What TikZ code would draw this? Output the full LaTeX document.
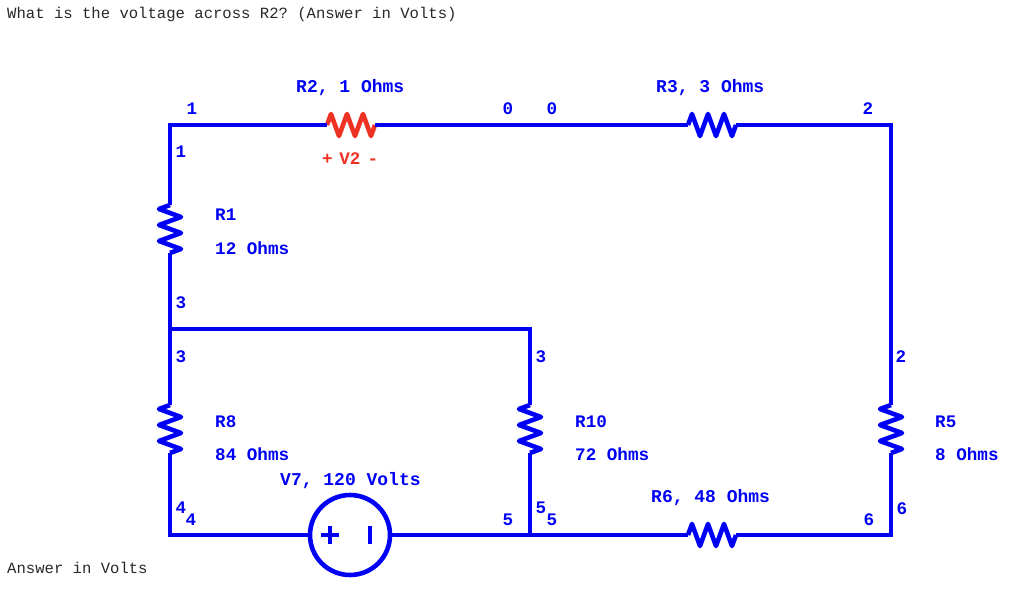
\documentclass[tikz,border=0pt]{standalone}
\usepackage{fontspec}
\setmainfont{Liberation Mono}
\frenchspacing
\definecolor{wireblue}{RGB}{0,0,245}
\definecolor{probered}{RGB}{238,50,36}
\definecolor{plaintext}{RGB}{40,40,40}
\tikzset{
    wire/.style={line width=4.6pt,wireblue},
    lbl/.style={anchor=base west,inner sep=0pt,text=wireblue,font=\fontsize{17.6}{20}\selectfont\bfseries},
    lblwide/.style={lbl,font=\fontsize{18}{20}\selectfont\bfseries},
    lblprobe/.style={lbl,text=probered},
    num/.style={anchor=base,inner sep=0pt,text=wireblue,font=\fontsize{17.6}{20}\selectfont\bfseries},
    plain/.style={anchor=base west,inner sep=0pt,text=plaintext,font=\fontsize{15.6}{18}\selectfont},
    pics/resh/.style={code={
        \draw[line join=round,pic actions] (0,0) -- (4,-11) -- (12,11) -- (20,-11) -- (28,11) -- (36,-11) -- (44,11) -- (48,0);
        \coordinate (-a) at (0,0);
        \coordinate (-b) at (48,0);
    }},
    pics/resv/.style={code={
        \draw[line join=round,pic actions] (0,0) -- (-11,4) -- (11,12) -- (-11,20) -- (11,28) -- (-11,36) -- (11,44) -- (0,48);
        \coordinate (-a) at (0,0);
        \coordinate (-b) at (0,48);
    }}
}
\begin{document}
\begin{tikzpicture}[x=1pt,y=-1pt]
    \useasboundingbox (0,0) rectangle (1024,612);

    % Corners and junctions
    \coordinate (n1) at (170,125);
    \coordinate (n0) at (530,125);
    \coordinate (n2) at (891,125);
    \coordinate (n3) at (170,329);
    \coordinate (n3r) at (530,329);
    \coordinate (n4) at (170,535);
    \coordinate (n5) at (530,535);
    \coordinate (n6) at (891,535);

    % Resistors
    \pic[wire] (r1) at (170,205) {resv};
    \pic[wire,probered] (r2) at (327,125) {resh};
    \pic[wire] (r3) at (688,125) {resh};
    \pic[wire] (r8) at (170,405) {resv};
    \pic[wire] (r10) at (530,405) {resv};
    \pic[wire] (r5) at (891,405) {resv};
    \pic[wire] (r6) at (688,535) {resh};

    % Voltage source
    \node[circle,draw=wireblue,line width=4.6pt,minimum size=80pt,inner sep=0pt] (v7) at (350,535) {};
    \draw[line width=4.6pt,wireblue] (321,535) -- (339,535);
    \draw[line width=4.6pt,wireblue] (330,526) -- (330,544);
    \draw[line width=4.6pt,wireblue] (370,526) -- (370,544);

    % Wires
    \draw[wire] (r1-a) -- (n1) -- (r2-a);
    \draw[wire] (r2-b) -- (n0) -- (r3-a);
    \draw[wire] (r3-b) -- (n2) -- (r5-a);
    \draw[wire] (r1-b) -- (r8-a);
    \draw[wire] (n3) -- (n3r) -- (r10-a);
    \draw[wire] (r8-b) -- (n4) -- (v7);
    \draw[wire] (v7) -- (n5) -- (r6-a);
    \draw[wire] (r10-b) -- (n5);
    \draw[wire] (r6-b) -- (n6) -- (r5-b);

    % Component labels
    \node[lblwide] (lr2) at (296,93) {R2, 1 Ohms};
    \node[lblprobe] (lv2) at (322,165) {+ \kern-4pt V2 \kern-3.5pt-};
    \node[lblwide] (lr3) at (656,93) {R3, 3 Ohms};
    \node[lbl] (lr1) at (215,221) {R1};
    \node[lbl] (lr1v) at (215,254.5) {12 Ohms};
    \node[lbl] (lr8) at (215,427) {R8};
    \node[lbl] (lr8v) at (215,460) {84 Ohms};
    \node[lbl] (lr10) at (575,427) {R10};
    \node[lbl] (lr10v) at (575,460) {72 Ohms};
    \node[lbl] (lr5) at (935,427) {R5};
    \node[lbl] (lr5v) at (935,460) {8 Ohms};
    \node[lblwide] (lv7) at (280,485) {V7, 120 Volts};
    \node[lblwide] (lr6) at (651,502) {R6, 48 Ohms};

    % Node numbers
    \node[num] (t1a) at (192,115) {1};
    \node[num] (t1b) at (181,158) {1};
    \node[num] (t0a) at (508,115) {0};
    \node[num] (t0b) at (552,115) {0};
    \node[num] (t2a) at (868,115) {2};
    \node[num] (t3a) at (181,308) {3};
    \node[num] (t3b) at (181,362) {3};
    \node[num] (t3c) at (541,362) {3};
    \node[num] (t2b) at (901,362) {2};
    \node[num] (t4a) at (181,513) {4};
    \node[num] (t4b) at (191,525) {4};
    \node[num] (t5a) at (508,525) {5};
    \node[num] (t5b) at (541,513) {5};
    \node[num] (t5c) at (552,525) {5};
    \node[num] (t6a) at (869,525) {6};
    \node[num] (t6b) at (902,514) {6};

    % Question text
    \node[plain] (question) at (7,19) {What is the voltage across R2? (Answer in Volts)};
    \node[plain] (answer) at (7,573) {Answer in Volts};
\end{tikzpicture}
\end{document}
